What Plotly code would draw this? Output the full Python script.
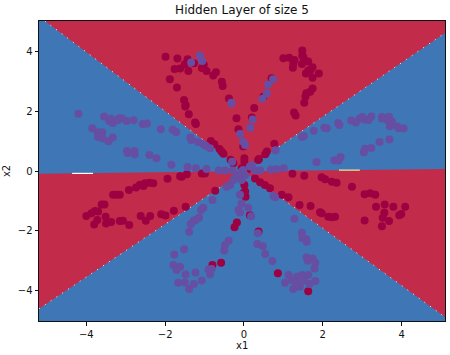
"""Decision boundary of a one hidden layer network on the flower data"""
import plotly.graph_objects as go

# decision regions, the plot background is the blue class
top_wedge_x = [-5.05, 0.0, 5.1, 5.2, -5.2]
top_wedge_y = [5.03, 0.02, 4.63, 5.03, 5.03]
left_wedge_x = [-5.2, 0.0, -5.2]
left_wedge_y = [-0.09, -0.01, -4.62]
right_wedge_x = [0.0, 5.2, 5.2, 5.1]
right_wedge_y = [-0.01, 0.07, -5.0, -4.9]

# dotted edges left by the contour fill
edge_top_left_x = [-5.05, 0.0]
edge_top_left_y = [5.03, 0.02]
edge_top_right_x = [0.3, 5.1]
edge_top_right_y = [0.28, 4.63]
edge_low_left_x = [-5.2, -0.3]
edge_low_left_y = [-4.62, -0.28]
edge_low_right_x = [0.7, 5.1]
edge_low_right_y = [-0.67, -4.9]
gap_white_x = [-4.36, -3.83]
gap_white_y = [-0.08, -0.08]
gap_green_x = [2.41, 2.94]
gap_green_y = [0.03, 0.03]

red_up_left = [
    (-1.99, 3.83), (-1.69, 3.77), (-1.43, 3.75), (-1.27, 3.61), (-1.02, 3.56), (-1.50, 3.58),
    (-1.62, 3.44), (-1.76, 3.42), (-1.41, 3.35), (-1.07, 3.45), (-0.95, 3.35), (-0.78, 3.20),
    (-0.71, 3.31), (-0.56, 2.99), (-0.54, 2.85), (-1.70, 2.80), (-1.88, 3.08), (-1.52, 2.38),
    (-1.48, 2.21), (-1.49, 2.16), (-1.40, 1.90), (-1.24, 1.63), (-1.22, 1.58), (-0.38, 2.43),
    (-0.19, 1.77), (-0.14, 1.40), (-0.84, 1.01), (-0.75, 0.90), (-0.62, 0.74), (-0.57, 0.65),
    (-0.52, 0.58), (-0.34, 0.38), (-0.27, 0.26), (-0.06, 0.09),
]
red_up_right = [
    (1.48, 4.04), (1.48, 3.87), (1.00, 3.78), (1.15, 3.80), (1.28, 3.72), (1.51, 3.81),
    (1.63, 3.67), (1.47, 3.59), (1.25, 3.59), (1.24, 3.46), (1.74, 3.48), (1.69, 3.39),
    (1.63, 3.37), (1.57, 3.27), (1.90, 3.27), (1.74, 3.13), (1.74, 2.77), (1.68, 2.66),
    (1.58, 2.61), (1.56, 2.50), (1.53, 2.29), (1.27, 1.96), (1.31, 1.86), (0.70, 3.11),
    (0.49, 2.49), (0.26, 2.11), (0.20, 1.79), (0.77, 0.91), (0.58, 0.65), (0.54, 0.56),
    (0.38, 0.40), (0.01, 0.43), (0.01, 0.31), (-0.02, 0.82), (0.36, 0.37), (0.03, 0.09),
    (0.07, 0.03),
]
red_low_left = [
    (-1.94, -0.26), (-1.62, -0.18), (-1.58, -0.19), (-1.45, -0.11), (-1.07, -0.08), (-0.99, -0.08),
    (-2.30, -0.41), (-2.40, -0.39), (-2.51, -0.41), (-2.55, -0.50), (-2.64, -0.46), (-2.74, -0.55),
    (-2.92, -0.64), (-3.15, -0.80), (-3.23, -0.80), (-3.32, -0.80), (-3.54, -1.12), (-3.61, -1.12),
    (-3.70, -1.36), (-3.78, -1.34), (-3.87, -1.42), (-4.00, -1.51), (-3.51, -1.53), (-3.72, -1.64),
    (-3.80, -1.79), (-3.50, -1.76), (-3.37, -1.71), (-3.15, -1.68), (-3.07, -1.67), (-2.91, -1.81),
    (-2.62, -1.51), (-2.49, -1.67), (-2.38, -1.51), (-2.10, -1.45), (-1.99, -1.49), (-1.78, -1.33),
    (-1.48, -1.20), (-0.73, -0.66), (-0.80, -3.15), (-0.58, -3.08), (-0.18, -1.73), (-0.24, -1.89),
]
red_low_right = [
    (1.23, -0.09), (1.53, -0.16), (1.97, -0.21), (2.06, -0.28), (2.23, -0.36), (2.35, -0.39),
    (2.74, -0.53), (3.06, -0.78), (3.20, -0.75), (3.33, -0.80), (3.35, -1.20), (3.57, -1.12),
    (3.79, -1.20), (4.09, -1.20), (3.56, -1.40), (3.52, -1.57), (3.68, -1.68), (3.94, -1.48),
    (3.99, -1.44), (3.06, -1.66), (3.50, -1.85), (1.41, -1.14), (1.69, -1.17), (0.96, -0.80),
    (1.13, -0.88), (1.93, -1.38), (1.97, -1.42), (2.14, -1.53), (2.31, -1.53), (2.23, -1.55),
    (0.37, -2.03), (0.86, -3.43), (1.63, -4.03), (0.28, -0.25), (0.53, -0.47), (0.66, -0.58),
    (0.15, -1.48), (0.04, -0.86), (-0.02, -0.75), (0.03, -0.69), (0.01, -0.47), (0.41, -0.38),
]

purple_up_left = [
    (-4.20, 1.92), (-3.55, 1.83), (-3.42, 1.68), (-3.37, 1.75), (-3.33, 1.61), (-3.21, 1.70),
    (-3.16, 1.77), (-3.10, 1.77), (-2.98, 1.68), (-2.80, 1.70), (-2.57, 1.58), (-2.46, 1.59),
    (-2.11, 1.40), (-1.81, 1.38), (-1.72, 1.31), (-3.85, 1.43), (-3.71, 1.30), (-3.59, 1.30),
    (-3.70, 1.15), (-3.59, 1.10), (-3.44, 1.00), (-3.33, 1.12), (-2.97, 0.67), (-2.95, 0.60),
    (-2.78, 0.67), (-2.77, 0.56), (-2.40, 0.54), (-2.22, 0.43), (-1.84, 0.21), (-1.43, 0.135),
    (-1.22, 0.09), (-0.95, 0.07), (-0.64, 0.02), (-0.48, 0.02), (-0.29, 0.02), (-1.36, 1.12),
    (-1.33, 1.04), (-1.16, 0.97), (-1.03, 0.90), (-0.97, 0.85), (-0.86, 0.76), (-0.30, 0.31),
]
purple_up_mid = [
    (-1.34, 3.64), (-1.12, 3.87), (-1.06, 3.69), (-0.32, 2.29), (-0.32, 2.26), (0.74, 3.08),
    (0.61, 2.89), (0.58, 2.60), (0.47, 2.42), (0.22, 1.73), (0.16, 1.45), (-0.10, 1.24),
    (-0.02, 0.98), (0.03, 0.87),
]
purple_up_right = [
    (3.23, 1.83), (3.00, 1.81), (3.06, 1.73), (2.93, 1.75), (3.16, 1.71), (2.84, 1.63),
    (2.72, 1.69), (3.50, 1.81), (3.68, 1.82), (3.50, 1.76), (3.65, 1.69), (3.75, 1.66),
    (3.70, 1.50), (3.88, 1.50), (3.93, 1.43), (4.05, 1.43), (3.69, 1.06), (3.44, 0.97),
    (3.23, 0.77), (3.07, 0.75), (3.04, 0.63), (2.45, 0.47), (2.29, 0.36), (2.40, 0.35),
    (1.84, 0.30), (2.39, 1.61), (2.42, 1.54), (2.04, 1.45), (2.10, 1.43), (1.77, 1.35),
    (1.52, 1.17), (1.47, 1.14), (0.80, 0.70), (0.20, 0.19), (0.29, 0.02), (0.41, 0.02),
    (0.68, 0.05), (0.83, 0.06), (1.01, 0.09), (-0.02, 0.03), (0.15, 0.15),
]
purple_low_left = [
    (-0.80, -0.97), (-1.03, -1.23), (-1.09, -1.31), (-1.14, -1.57), (-1.23, -1.64), (-1.28, -1.67),
    (-1.35, -1.78), (-1.39, -2.04), (-1.52, -2.62), (-1.77, -2.80), (-1.79, -3.15), (-1.71, -3.32),
    (-1.62, -3.21), (-1.48, -3.47), (-1.23, -3.40), (-1.67, -3.75), (-1.50, -3.74), (-1.39, -3.96),
    (-1.27, -3.79), (-1.07, -3.67), (-0.90, -3.30), (-0.82, -3.29), (-0.86, -3.46), (-0.50, -2.67),
    (-0.48, -2.48), (-0.39, -2.34), (-0.14, -1.31), (-0.10, -0.80), (-0.35, -0.47), (-0.44, -0.53),
    (-0.27, -0.30), (-0.19, -0.19), (-0.12, -0.13), (-0.06, -0.02),
]
purple_low_right = [
    (0.75, -0.84), (0.79, -0.88), (0.11, -1.23), (0.18, -1.52), (-0.10, -1.39), (-0.06, -1.09),
    (1.28, -1.60), (1.47, -2.07), (1.48, -2.25), (1.58, -2.29), (1.59, -2.37), (0.35, -2.09),
    (0.34, -2.45), (0.48, -2.52), (0.54, -2.78), (0.72, -3.02), (1.59, -2.90), (1.62, -3.01),
    (1.74, -2.93), (1.81, -3.08), (1.79, -3.27), (1.13, -3.49), (1.04, -3.75), (1.21, -3.66),
    (1.34, -3.55), (1.48, -3.49), (1.63, -3.49), (1.52, -3.66), (1.25, -3.96), (1.34, -3.77),
    (1.42, -3.88), (1.66, -3.79), (1.81, -3.69), (0.03, -0.13), (-0.06, -0.30),
]

x_ticks = [-4, -2, 0, 2, 4]
y_ticks = [-4, -2, 0, 2, 4]

RED = '#c32b4b'
BLUE = '#3f76b5'

fig = go.Figure()

# regions
for wx, wy in [(top_wedge_x, top_wedge_y), (left_wedge_x, left_wedge_y), (right_wedge_x, right_wedge_y)]:
    fig.add_trace(go.Scatter(x=wx, y=wy, mode='lines', fill='toself', fillcolor=RED, line=dict(width=0)))

# dotted boundary pixels
for ex, ey in [
    (edge_top_left_x, edge_top_left_y),
    (edge_top_right_x, edge_top_right_y),
    (edge_low_left_x, edge_low_left_y),
    (edge_low_right_x, edge_low_right_y),
]:
    fig.add_trace(go.Scatter(x=ex, y=ey, mode='lines', line=dict(color='#fdfbe0', width=1, dash='1px,6px')))
fig.add_trace(go.Scatter(x=gap_white_x, y=gap_white_y, mode='lines', line=dict(color='white', width=1.2)))
fig.add_trace(go.Scatter(x=gap_green_x, y=gap_green_y, mode='lines', line=dict(color='#e6f598', width=1.2)))

# points
red_points = red_up_left + red_up_right + red_low_left + red_low_right
purple_points = purple_up_left + purple_up_mid + purple_up_right + purple_low_left + purple_low_right
fig.add_trace(go.Scatter(
    x=[p[0] for p in red_points],
    y=[p[1] for p in red_points],
    mode='markers',
    marker=dict(color='#9e0142', size=8),
))
fig.add_trace(go.Scatter(
    x=[p[0] for p in purple_points],
    y=[p[1] for p in purple_points],
    mode='markers',
    marker=dict(color='#664fa3', size=8),
))

fig.update_layout(
    width=450,
    height=355,
    autosize=False,
    margin=dict(l=39, r=5, t=21, b=34),
    showlegend=False,
    paper_bgcolor='white',
    plot_bgcolor=BLUE,
    font=dict(family='DejaVu Sans', size=10, color='#111111'),
    title=dict(
        text='Hidden Layer of size 5',
        font=dict(size=12, color='#111111'),
        x=0.5,
        xref='paper',
        xanchor='center',
        y=0.972,
        yanchor='middle',
    ),
)
axis_style = dict(
    showgrid=False,
    zeroline=False,
    showline=True,
    mirror=True,
    linecolor='#111111',
    linewidth=1,
    ticks='outside',
    ticklen=3.5,
    tickwidth=1,
    tickcolor='#111111',
    automargin=False,
)
fig.update_xaxes(range=[-5.2, 5.1], tickvals=x_ticks, **axis_style)
fig.update_yaxes(range=[-5.03, 5.03], tickvals=y_ticks, **axis_style)

# axis titles sit at fixed spots next to the frame
fig.add_annotation(text='x1', x=0.5, y=-0.083, xref='paper', yref='paper', showarrow=False, yanchor='middle')
fig.add_annotation(text='x2', x=-0.081, y=0.5, xref='paper', yref='paper', showarrow=False, textangle=-90, xanchor='center')

# page margin off so the figure starts at the window corner
fig.write_html("out.html", config=dict(displayModeBar=False), post_script="document.body.style.margin='0';")
